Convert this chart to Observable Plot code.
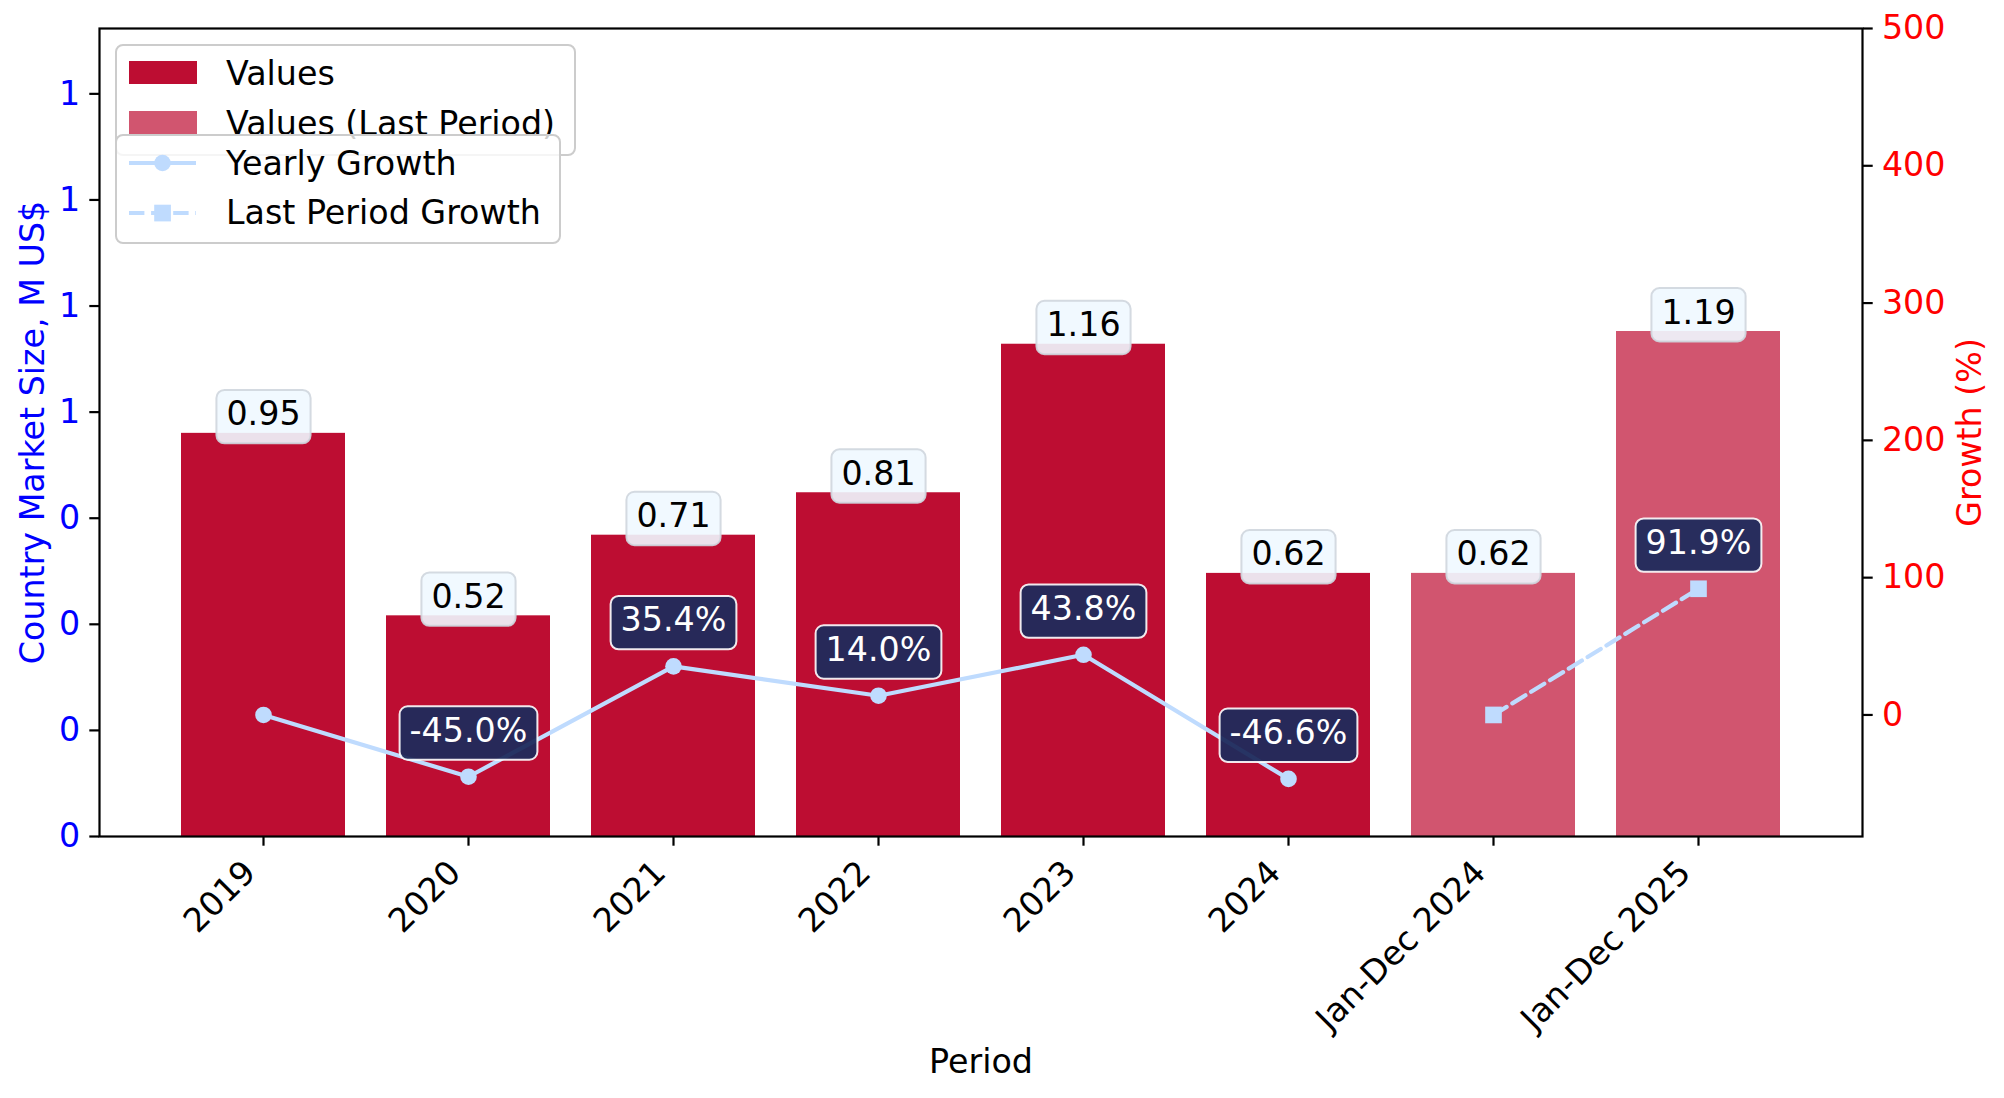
<!DOCTYPE html>
<html>
<head>
<meta charset="utf-8">
<script src="https://cdn.jsdelivr.net/npm/d3@7"></script>
<script src="https://cdn.jsdelivr.net/npm/@observablehq/plot@0.6"></script>
<style>
html, body { margin: 0; padding: 0; background: #ffffff; overflow: hidden; }
#wrap { position: relative; width: 2004px; height: 1098px; overflow: hidden; font-family: "DejaVu Sans"; }
#wrap > svg { position: absolute; left: 0; top: 0; }
</style>
</head>
<body>
<div id="wrap"></div>
<script>
// ---- data ----
const periods = ["2019", "2020", "2021", "2022", "2023", "2024", "Jan-Dec 2024", "Jan-Dec 2025"];
const values = [0.95, 0.52, 0.71, 0.81, 1.16, 0.62, 0.62, 1.19];
const lastPeriodFlags = [0, 0, 0, 0, 0, 0, 1, 1];
const yearlyPeriods = ["2019", "2020", "2021", "2022", "2023", "2024"];
const yearlyGrowth = [0, -45.0, 35.4, 14.0, 43.8, -46.6];
const yearlyLabelled = [0, 1, 1, 1, 1, 1];
const lastPeriods = ["Jan-Dec 2024", "Jan-Dec 2025"];
const lastGrowth = [0, 91.9];
const lastLabelled = [0, 1];
const leftTicks = [0, 0.25, 0.5, 0.75, 1, 1.25, 1.5, 1.75];
const rightTicks = [0, 100, 200, 300, 400, 500];
const leftDomain = [0, 1.904];
const rightDomain = [-88.54, 500];
const legendBars = ["Values", "Values (Last Period)"];
const legendLines = ["Yearly Growth", "Last Period Growth"];
const xLabel = "Period";
const yLeftLabel = "Country Market Size, M US$";
const yRightLabel = "Growth (%)";

// ---- layout / style ----
const W = 2004, H = 1098, ML = 99, MR = 142, MT = 28, MB = 262;
const FS = 33.3;
const BAR = "#bd0d32", LINE = "#bfdbfe", NAVY = "#1f2b5c";
const NS = "http://www.w3.org/2000/svg";

const bars = periods.map((p, i) => ({period: p, value: values[i], last: !!lastPeriodFlags[i]}));
const yearly = yearlyPeriods.map((p, i) => ({period: p, growth: yearlyGrowth[i], lab: yearlyLabelled[i]}));
const lastG = lastPeriods.map((p, i) => ({period: p, growth: lastGrowth[i], lab: lastLabelled[i]}));
const growthLabels = yearly.concat(lastG).filter(d => d.lab);

const xOpts = {type: "band", domain: periods, paddingInner: 0.2, paddingOuter: 0.39, align: 0.5, axis: null};
const common = {
  width: W, height: H, marginLeft: ML, marginRight: MR, marginTop: MT, marginBottom: MB,
  style: {fontFamily: "DejaVu Sans", fontSize: FS + "px", background: "transparent", overflow: "visible"}
};

const wrap = document.getElementById("wrap");

// ---- primary chart (bars, left axis, x axis) ----
const chartA = Plot.plot({
  ...common,
  x: xOpts,
  y: {domain: leftDomain, axis: null},
  marks: [
    Plot.barY(bars.filter(d => !d.last), {x: "period", y: "value", fill: BAR}),
    Plot.barY(bars.filter(d => d.last), {x: "period", y: "value", fill: BAR, fillOpacity: 0.7}),
    Plot.text(bars, {x: "period", y: "value", text: d => d.value.toFixed(2), dy: -8, lineAnchor: "bottom",
      fill: "black", fontSize: FS, ariaDescription: "value-labels"}),
    Plot.frame({stroke: "black", strokeWidth: 2.2}),
    Plot.axisY({ticks: leftTicks, tickFormat: d => String(Math.floor(d)), tickSize: 9.7, tickPadding: 9.7,
      stroke: "black", strokeWidth: 2.2, fill: "#0000ff", fontSize: FS, label: null}),
    Plot.axisX({tickSize: 9.7, stroke: "black", strokeWidth: 2.2, fill: "none", label: null}),
    Plot.text(periods, {x: d => d, frameAnchor: "bottom", rotate: -45, textAnchor: "end", lineAnchor: "bottom",
      dx: -6, dy: 38, fill: "black", fontSize: FS}),
    Plot.text([xLabel], {frameAnchor: "bottom", textAnchor: "middle", dy: 236, lineAnchor: "bottom", fill: "black", fontSize: FS}),
    Plot.text([yLeftLabel], {frameAnchor: "left", textAnchor: "middle", dx: -56, rotate: -90, lineAnchor: "bottom", fill: "#0000ff", fontSize: FS})
  ]
});
wrap.appendChild(chartA);

// ---- legend 1 (bars) ----
function legendSvg(build) {
  const svg = document.createElementNS(NS, "svg");
  svg.setAttribute("width", W); svg.setAttribute("height", H);
  svg.setAttribute("font-family", "DejaVu Sans");
  svg.setAttribute("font-size", FS);
  svg.innerHTML = build;
  wrap.appendChild(svg);
}
legendSvg(`
  <rect x="116" y="45" width="459" height="110" rx="7" fill="white" fill-opacity="0.8" stroke="#cccccc" stroke-width="2"/>
  <rect x="129" y="61" width="68" height="23" fill="${BAR}"/>
  <text x="226" y="85" fill="black">${legendBars[0]}</text>
  <rect x="129" y="111" width="68" height="23" fill="${BAR}" fill-opacity="0.7"/>
  <text x="226" y="135" fill="black">${legendBars[1]}</text>
`);

// ---- secondary chart (growth, right axis) ----
const chartB = Plot.plot({
  ...common,
  x: xOpts,
  y: {domain: rightDomain, axis: null},
  marks: [
    Plot.line(yearly, {x: "period", y: "growth", stroke: LINE, strokeWidth: 4.2}),
    Plot.dot(yearly, {x: "period", y: "growth", r: 8.3, fill: LINE}),
    Plot.line(lastG, {x: "period", y: "growth", stroke: LINE, strokeWidth: 4.2, strokeDasharray: "15.4,6.7"}),
    Plot.dot(lastG, {x: "period", y: "growth", symbol: "square", r: 9.4, fill: LINE}),
    Plot.text(growthLabels, {x: "period", y: "growth", text: d => d.growth.toFixed(1) + "%", dy: -35, lineAnchor: "bottom",
      fill: "white", fontSize: FS, ariaDescription: "growth-labels"}),
    Plot.axisY({anchor: "right", ticks: rightTicks, tickSize: 9.7, tickPadding: 9.7,
      stroke: "black", strokeWidth: 2.2, fill: "#ff0000", fontSize: FS, label: null}),
    Plot.text([yRightLabel], {frameAnchor: "right", textAnchor: "middle", dx: 118, rotate: -90, lineAnchor: "bottom", fill: "#ff0000", fontSize: FS})
  ]
});
wrap.appendChild(chartB);

// ---- legend 2 (lines) ----
legendSvg(`
  <rect x="116" y="135" width="444" height="108" rx="7" fill="white" fill-opacity="0.8" stroke="#cccccc" stroke-width="2"/>
  <line x1="129" x2="196" y1="163" y2="163" stroke="${LINE}" stroke-width="4.2"/>
  <circle cx="162.5" cy="163" r="8.3" fill="${LINE}"/>
  <text x="226" y="175" fill="black">${legendLines[0]}</text>
  <line x1="129" x2="196" y1="213" y2="213" stroke="${LINE}" stroke-width="4.2" stroke-dasharray="15.4,6.7"/>
  <rect x="154.2" y="204.7" width="16.7" height="16.7" fill="${LINE}"/>
  <text x="226" y="224" fill="black">${legendLines[1]}</text>
`);

// ---- rounded label boxes behind the annotation texts ----
function boxify(svg, desc, fill, fillOpacity, stroke, strokeOpacity) {
  svg.querySelectorAll(`g[aria-description="${desc}"] text`).forEach(t => {
    const b = t.getBBox();
    const r = document.createElementNS(NS, "rect");
    r.setAttribute("x", b.x - 10);
    r.setAttribute("y", b.y - 4.4);
    r.setAttribute("width", b.width + 20);
    r.setAttribute("height", b.height + 14.4);
    r.setAttribute("rx", 8);
    r.setAttribute("fill", fill);
    r.setAttribute("fill-opacity", fillOpacity);
    r.setAttribute("stroke", stroke);
    r.setAttribute("stroke-opacity", strokeOpacity);
    r.setAttribute("stroke-width", 2);
    const tr = t.getAttribute("transform");
    if (tr) r.setAttribute("transform", tr);
    t.parentNode.insertBefore(r, t);
  });
}
boxify(chartA, "value-labels", "#f0f8ff", 0.9, "#cfd6de", 0.9);
boxify(chartB, "growth-labels", NAVY, 0.95, "#ffffff", 0.9);
</script>
</body>
</html>
